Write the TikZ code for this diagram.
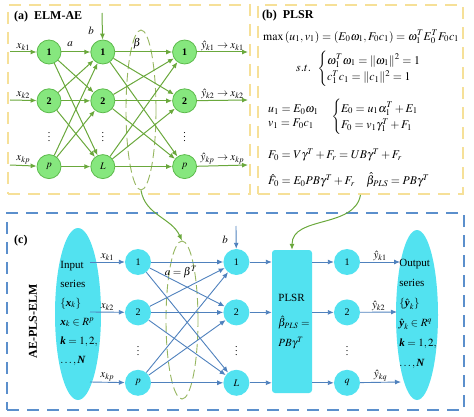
\documentclass[tikz,border=0pt]{standalone}
\usepackage{amsmath}
\usepackage{amssymb}
\usepackage{mathptmx}
\usepackage{fontspec}
\setmainfont{Liberation Serif}
\usetikzlibrary{positioning,shapes.geometric,arrows.meta}

\definecolor{gfill}{RGB}{134,231,126}
\definecolor{gline}{RGB}{92,186,75}
\definecolor{garrow}{RGB}{106,168,60}
\definecolor{cfill}{RGB}{82,226,240}
\definecolor{barrow}{RGB}{79,129,189}
\definecolor{bdash}{RGB}{91,143,204}
\definecolor{ydash}{RGB}{246,224,152}
\definecolor{ringc}{RGB}{150,182,96}

\newcommand{\bx}{\textbf{\textit{x}}}
\newcommand{\by}{\textbf{\textit{y}}}

\begin{document}
\begin{tikzpicture}[x=1pt,y=-1pt,
    gn/.style={circle, draw=gline, line width=0.8pt, fill=gfill, minimum size=24pt, inner sep=0pt, font=\bfseries\fontsize{10}{12}\selectfont},
    cn/.style={circle, fill=cfill, minimum size=26pt, inner sep=0pt, font=\fontsize{10}{12}\selectfont},
    ga/.style={draw=garrow, line width=1pt, -{Latex[length=6pt,width=5pt]}},
    ba/.style={draw=barrow, line width=0.9pt, -{Latex[length=6pt,width=5pt]}},
    lbl/.style={font=\fontsize{11}{13}\selectfont, inner sep=1pt},
    eq/.style={font=\fontsize{11.8}{13.5}\selectfont, inner sep=0pt, anchor=west},
    ybox/.style={draw=ydash, line width=1.8pt, dash pattern=on 12pt off 8pt, inner sep=0pt},
    bbox/.style={draw=bdash, line width=1.6pt, dash pattern=on 12pt off 8pt, inner sep=0pt},
    ring/.style={ellipse, draw=ringc, line width=0.9pt, dash pattern=on 9pt off 4pt, inner sep=0pt},
    blob/.style={ellipse, fill=cfill, inner sep=0pt},
    ttl/.style={font=\bfseries\fontsize{12}{14}\selectfont, inner sep=0pt}
  ]
  \useasboundingbox (0,0) rectangle (474,417);

  \node[ybox, minimum width=242pt, minimum height=189pt] (pa) at (129,99.5) {};
  \node[ybox, minimum width=205pt, minimum height=189pt] (pb) at (360.5,99.5) {};
  \node[bbox, minimum width=457pt, minimum height=197pt] (pc) at (235.5,311.5) {};

  \node[ttl, anchor=west] at (14,17) {(a)\enspace ELM-AE};
  \node[gn] (in1) at (49,52) {1};
  \node[gn, below=24pt of in1] (in2) {2};
  \node[gn, below=41pt of in2] (in3) {$p$};
  \node[gn, right=29pt of in1] (hd1) {1};
  \node[gn, below=24pt of hd1] (hd2) {2};
  \node[gn, below=41pt of hd2] (hd3) {$L$};
  \node[gn, right=57pt of hd1] (ou1) {1};
  \node[gn, below=24pt of ou1] (ou2) {2};
  \node[gn, below=41pt of ou2] (ou3) {$p$};
  \path (in2) -- (in3) node[midway] {$\vdots$};
  \path (hd2) -- (hd3) node[midway] {$\vdots$};
  \path (ou2) -- (ou3) node[midway] {$\vdots$};
  \node[ring, minimum width=30pt, minimum height=160pt] (ra) at (141,110) {};

  \coordinate (s1) at (10,52);
  \coordinate (s2) at (10,100);
  \coordinate (s3) at (10,165);
  \coordinate (e1) at (248,52);
  \coordinate (e2) at (248,100);
  \coordinate (e3) at (248,165);
  \coordinate (bt) at (102,13);
  \draw[ga] (s1) -- node[above, lbl] {$x_{k1}$} (in1);
  \draw[ga] (s2) -- node[above, lbl] {$x_{k2}$} (in2);
  \draw[ga] (s3) -- node[above, lbl] {$x_{kp}$} (in3);
  \foreach \i in {1,2,3}
    \foreach \j in {1,2,3} {
      \draw[ga] (in\i) -- (hd\j);
      \draw[ga] (hd\i) -- (ou\j);
    }
  \draw[ga] (ou1) -- node[above, lbl] {$\hat{y}_{k1}\rightarrow x_{k1}$} (e1);
  \draw[ga] (ou2) -- node[above, lbl] {$\hat{y}_{k2}\rightarrow x_{k2}$} (e2);
  \draw[ga] (ou3) -- node[above, lbl] {$\hat{y}_{kp}\rightarrow x_{kp}$} (e3);
  \draw[ga] (bt) -- (hd1);
  \node[lbl] at (70,44) {$a$};
  \node[lbl] at (91,31) {$b$};
  \node[lbl] at (137,44) {$\beta$};

  \node[ttl, anchor=west] at (262,16) {(b)\enspace PLSR};
  \node[eq] at (263,37) {$\max\,(u_1,v_1)=(E_0\omega_1,F_0c_1)=\omega_1^{T}E_0^{T}F_0c_1$};
  \node[eq] at (296,69) {$s.t.\;\; \begin{cases}\omega_1^{T}\omega_1=\|\omega_1\|^2=1\\ c_1^{T}c_1=\|c_1\|^2=1\end{cases}$};
  \node[eq] at (268,117) {$\begin{array}{@{}l@{}}u_1=E_0\omega_1\\ v_1=F_0c_1\end{array}\quad \begin{cases}E_0=u_1\alpha_1^{T}+E_1\\ F_0=v_1\gamma_1^{T}+F_1\end{cases}$};
  \node[eq] at (268,155) {$F_0=V\gamma^{T}+F_r=UB\gamma^{T}+F_r$};
  \node[eq] at (268,180) {$\hat{F}_0=E_0PB\gamma^{T}+F_r\quad \hat{\beta}_{PLS}=PB\gamma^{T}$};

  \node[ttl, anchor=west] at (14,241) {(c)};
  \node[ttl, rotate=90] at (33,321) {AE-PLS-ELM};
  \node[blob, minimum width=46pt, minimum height=172pt] (inp) at (78,314) {};
  \node[lbl, align=left, font=\fontsize{11}{19}\selectfont] at (79,313) {Input\\series\\$\{\bx_k\}$\\$\bx_k\in R^{p}$\\$\textbf{\textit{k}}=1,2,$\\$\ldots,\textbf{\textit{N}}$};
  \node[blob, minimum width=42pt, minimum height=170pt] (outp) at (417,315) {};
  \node[lbl, align=left, font=\fontsize{11}{20}\selectfont] at (418,314) {Output\\series\\$\{\hat{\by}_k\}$\\$\hat{\by}_k\in R^{q}$\\$\textbf{\textit{k}}=1,2,$\\$\ldots,\textbf{\textit{N}}$};

  \node[cn] (ci1) at (138,262) {1};
  \node[cn, below=24pt of ci1] (ci2) {2};
  \node[cn, below=44pt of ci2] (ci3) {$p$};
  \node[cn, right=72pt of ci1] (ch1) {1};
  \node[cn, below=24pt of ch1] (ch2) {2};
  \node[cn, below=44pt of ch2] (ch3) {$L$};
  \node[blob, rectangle, rounded corners=3pt, minimum width=40pt, minimum height=143pt] (pls) at (292,321.5) {};
  \node[lbl, align=left, font=\fontsize{11}{20}\selectfont] at (294,322) {PLSR\\[5pt]$\hat{\beta}_{PLS}=$\\$PB\gamma^{T}$};
  \node[cn] (cq1) at (347,262) {1};
  \node[cn, below=24pt of cq1] (cq2) {2};
  \node[cn, below=44pt of cq2] (cq3) {$q$};
  \path (ci2) -- (ci3) node[midway] {$\vdots$};
  \path (ch2) -- (ch3) node[midway] {$\vdots$};
  \path (cq2) -- (cq3) node[midway] {$\vdots$};
  \node[ring, minimum width=32pt, minimum height=158pt] (rc) at (182,320) {};

  \coordinate (is1) at (90,262);
  \coordinate (is2) at (90,312);
  \coordinate (is3) at (90,382);
  \coordinate (oe1) at (400,262);
  \coordinate (oe2) at (397,312);
  \coordinate (oe3) at (401,382);
  \coordinate (cb) at (236,226);
  \draw[ba] (is1) -- node[above, lbl] {$x_{k1}$} (ci1);
  \draw[ba] (is2) -- node[above, lbl] {$x_{k2}$} (ci2);
  \draw[ba] (is3) -- node[above, lbl] {$x_{kp}$} (ci3);
  \foreach \i in {1,2,3} {
    \foreach \j in {1,2,3}
      \draw[ba] (ci\i) -- (ch\j);
    \draw[ba] (ch\i) -- (ch\i -| pls.west);
    \draw[ba] (pls.east |- cq\i) -- (cq\i);
  }
  \draw[ba] (cq1) -- node[above, lbl] {$\hat{y}_{k1}$} (oe1);
  \draw[ba] (cq2) -- node[above, lbl] {$\hat{y}_{k2}$} (oe2);
  \draw[ba] (cq3) -- node[above, lbl] {$\hat{y}_{kq}$} (oe3);
  \draw[ba] (cb) -- (ch1);
  \node[lbl] at (225,240) {$b$};
  \node[lbl] at (181,272) {$a=\beta^{T}$};

  \draw[ga] (ra.south) to[out=-80, in=115] (rc.north);
  \draw[ga] (pb.south) to[out=-100, in=90] (pls.north);
\end{tikzpicture}
\end{document}
